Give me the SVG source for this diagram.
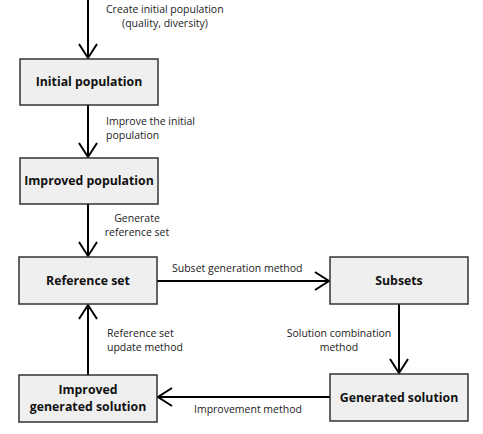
<svg xmlns="http://www.w3.org/2000/svg" width="483" height="434" viewBox="0 0 483 434">
<style>
.box{fill:#efefef;stroke:#333;stroke-width:1.5}
.bt{font-family:"Open Sans","Liberation Sans",sans-serif;font-weight:bold;font-size:12.3px;fill:#111;text-anchor:middle}
.lb{font-family:"Open Sans","Liberation Sans",sans-serif;font-size:10.5px;fill:#222}
.c{stroke:#000;stroke-width:2;fill:none}
</style>
<defs>
<marker id="ah" viewBox="0 0 20 20" refX="18" refY="10" markerWidth="20" markerHeight="20" markerUnits="userSpaceOnUse" orient="auto">
<path d="M4,1 L18,10 L4,19" fill="none" stroke="#000" stroke-width="2"/>
</marker>
</defs>
<rect width="483" height="434" fill="#fff"/>
<g id="connectors">
<line class="c" x1="88" y1="0" x2="88" y2="58" marker-end="url(#ah)"/>
<line class="c" x1="88" y1="105" x2="88" y2="157" marker-end="url(#ah)"/>
<line class="c" x1="88" y1="204" x2="88" y2="256" marker-end="url(#ah)"/>
<line class="c" x1="157" y1="281" x2="329" y2="281" marker-end="url(#ah)"/>
<line class="c" x1="399" y1="304" x2="399" y2="373" marker-end="url(#ah)"/>
<line class="c" x1="330" y1="397" x2="158" y2="397" marker-end="url(#ah)"/>
<line class="c" x1="88" y1="375" x2="88" y2="305" marker-end="url(#ah)"/>
<text class="lb" x="106" y="13">Create initial population</text>
<text class="lb" x="165" y="27" text-anchor="middle">(quality, diversity)</text>
<text class="lb" x="106" y="125">Improve the initial</text>
<text class="lb" x="106" y="139">population</text>
<text class="lb" x="137" y="222" text-anchor="middle">Generate</text>
<text class="lb" x="137" y="236" text-anchor="middle">reference set</text>
<text class="lb" x="172" y="272">Subset generation method</text>
<text class="lb" x="107" y="337">Reference set</text>
<text class="lb" x="107" y="351">update method</text>
<text class="lb" x="339" y="337" text-anchor="middle">Solution combination</text>
<text class="lb" x="339" y="351" text-anchor="middle">method</text>
<text class="lb" x="194" y="413">Improvement method</text>
</g>
<g id="initial-population">
<rect class="box" x="20" y="59" width="138" height="46"/>
<text class="bt" x="89" y="86">Initial population</text>
</g>
<g id="improved-population">
<rect class="box" x="20" y="158" width="138" height="46"/>
<text class="bt" x="89" y="185">Improved population</text>
</g>
<g id="reference-set">
<rect class="box" x="19" y="257" width="138" height="47"/>
<text class="bt" x="88" y="285">Reference set</text>
</g>
<g id="subsets">
<rect class="box" x="330" y="257" width="138" height="47"/>
<text class="bt" x="399" y="285">Subsets</text>
</g>
<g id="generated-solution">
<rect class="box" x="330" y="374" width="138" height="47"/>
<text class="bt" x="399" y="402">Generated solution</text>
</g>
<g id="improved-generated-solution">
<rect class="box" x="19" y="375" width="138" height="47"/>
<text class="bt" x="88" y="394">Improved</text>
<text class="bt" x="88" y="411">generated solution</text>
</g>
</svg>
